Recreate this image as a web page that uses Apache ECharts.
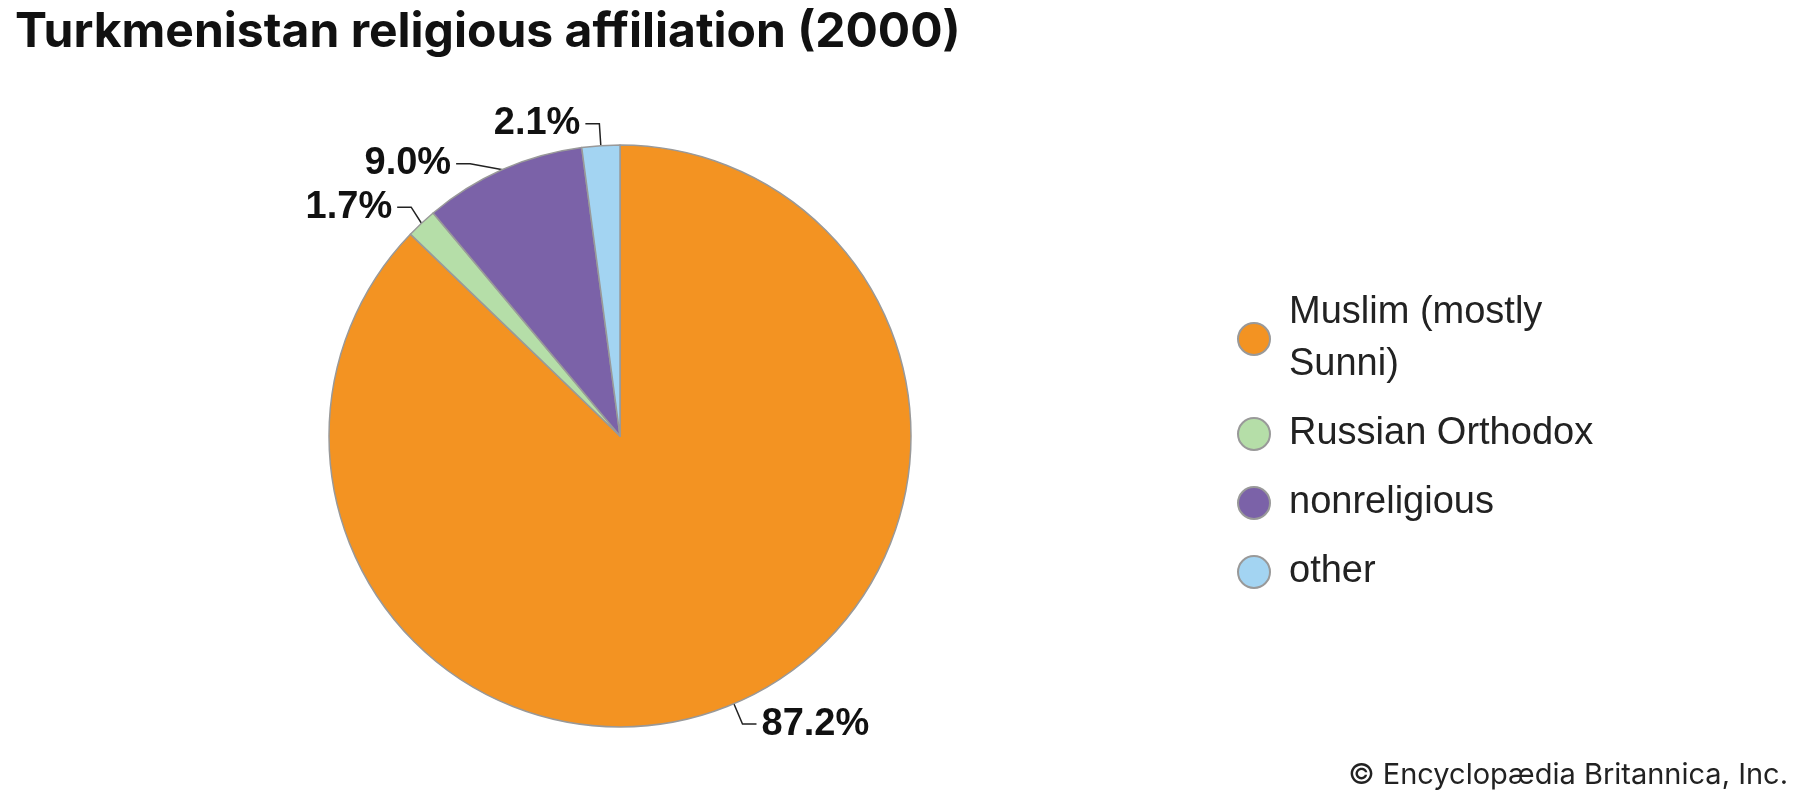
<!DOCTYPE html>
<html><head><meta charset="utf-8">
<script src="https://cdn.jsdelivr.net/npm/echarts@6/dist/echarts.min.js"></script>
<style>html,body{margin:0;background:#fff}#c{width:1800px;height:800px}</style>
</head><body><div id="c"></div>
<script>
const categories = ['Muslim (mostly\nSunni)', 'Russian Orthodox', 'nonreligious', 'other'];
const values = [87.2, 1.7, 9.0, 2.1];
const colors = ['#F39322', '#B5DEA8', '#7B62A8', '#A3D4F2'];
const chart = echarts.init(document.getElementById('c'));
chart.setOption({
  animation: false,
  title: { text: 'Turkmenistan religious affiliation (2000)', left: 10, top: 4,
    textStyle: { fontFamily: 'Inter', fontWeight: 'bold', fontSize: 48, color: '#111' } },
  graphic: [{ type: 'text', right: 12, bottom: 10,
    style: { text: '© Encyclopædia Britannica, Inc.', font: '29px Inter', fill: '#222' } }],
  legend: {
    orient: 'vertical', left: 1232, top: 282, itemGap: 17, icon: 'circle',
    itemWidth: 32, itemHeight: 32,
    textStyle: { fontFamily: 'Liberation Sans', fontSize: 38, color: '#222', lineHeight: 52, padding: [0, 0, 0, 14] },
    data: categories
  },
  series: [{
    type: 'pie', center: [620, 436], radius: 291, startAngle: 90, clockwise: true,
    itemStyle: { borderColor: '#999', borderWidth: 1.5 },
    label: { formatter: p => values[p.dataIndex].toFixed(1) + '%',
      fontFamily: 'Liberation Sans', fontWeight: 'bold', fontSize: 38, color: '#111' },
    labelLine: { show: true, length: 22, length2: 14, lineStyle: { color: '#222', width: 1.5 } },
    data: categories.map((n, i) => ({ name: n, value: values[i], itemStyle: { color: colors[i] } }))
  }]
});
</script></body></html>
